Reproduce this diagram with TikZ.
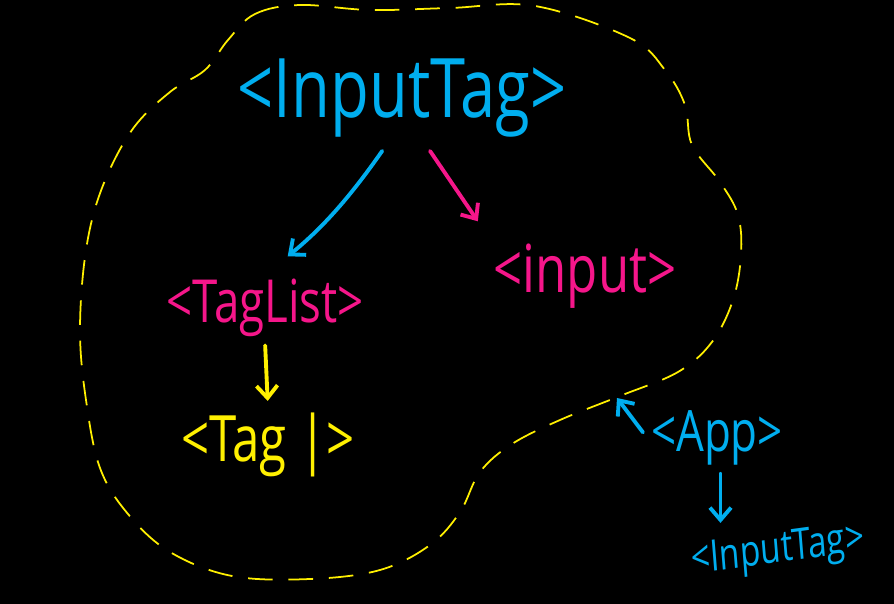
\documentclass[tikz,border=0pt]{standalone}
\usepackage{fontspec}
\setmainfont{Open Sans}
\usepackage{xcolor}
\usetikzlibrary{arrows.meta,positioning}
\definecolor{penblue}{HTML}{00AEEF}
\definecolor{penpink}{HTML}{F5168A}
\definecolor{penyellow}{HTML}{FFF000}
\tikzset{
  tag/.style={inner sep=2pt, align=center, transform shape, yscale=1.3},
  bluetag/.style={tag, text=penblue},
  pinktag/.style={tag, text=penpink},
  yellowtag/.style={tag, text=penyellow},
  line/.style={-{Straight Barb[length=7pt,width=12pt]}, line width=2.2pt, line cap=round},
  blob/.style={draw=penyellow, line width=1pt, dash pattern=on 14pt off 9pt}
}
\begin{document}
\begin{tikzpicture}[x=0.02cm, y=-0.02cm]
  \fill[black] (0,0) rectangle (894,604);
  \useasboundingbox (0,0) rectangle (894,604);
  % the component boundary
  \draw[blob] plot[smooth cycle, tension=0.6] coordinates {
    (228,40) (255,14) (300,5) (370,10) (450,8) (535,6) (630,38) (665,70)
    (685,105) (692,145) (720,182) (738,215) (741,255) (733,300) (712,342)
    (678,372) (620,396) (560,420) (512,444) (480,472) (460,512) (430,545)
    (380,570) (310,579) (232,576) (170,552) (128,514) (100,468) (86,400)
    (80,330) (86,250) (102,188) (132,130) (170,92) (205,70)};
  \coordinate (edge) at (617,398);
  % components
  \node[bluetag, font=\fontsize{36}{40}\selectfont] (inputtag) at (402,98) {<InputTag>};
  \node[pinktag, font=\fontsize{26}{30}\selectfont] (taglist) at (265,308) {<TagList>};
  \node[pinktag, font=\fontsize{29}{33}\selectfont] (inputel) at (585,276) {<input>};
  \node[yellowtag, font=\fontsize{28}{32}\selectfont] (tagone) at (268,445) {<Tag |>};
  \node[bluetag, font=\fontsize{25}{29}\selectfont] (app) at (717,438) {<App>};
  \node[bluetag, font=\fontsize{19}{23}\selectfont, rotate=6] (appchild) at (778,552) {<InputTag>};
  % arrows
  \draw[line, penblue, shorten <=6pt, shorten >=16pt] (inputtag.-112) to[bend left=8] (taglist.88);
  \draw[line, penpink, shorten <=6pt, shorten >=12pt] (inputtag.-57) -- (inputel.north west);
  \draw[line, penyellow, shorten <=2pt, shorten >=4pt] (taglist.south) -- (tagone.north);
  \draw[line, penblue, shorten <=4pt] (app.west) -- (edge);
  \draw[line, penblue, shorten <=2pt, shorten >=2pt] (app.-82) -- (app.-82 |- appchild.north);
\end{tikzpicture}
\end{document}
